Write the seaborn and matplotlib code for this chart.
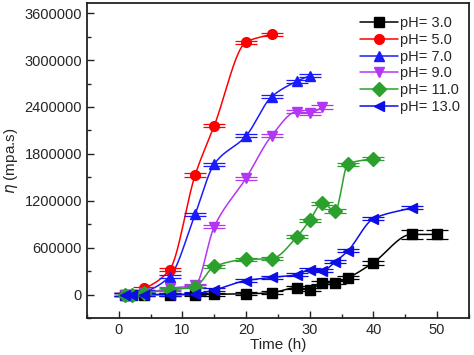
import matplotlib
matplotlib.use("Agg")
import matplotlib.pyplot as plt
from matplotlib.lines import Line2D
from matplotlib.ticker import MultipleLocator, FuncFormatter
import numpy as np
import pandas as pd
import seaborn as sns

# data
labels = ["pH= 3.0", "pH= 5.0", "pH= 7.0", "pH= 9.0", "pH= 11.0", "pH= 13.0"]

t_ph3 = [1, 2, 4, 8, 12, 15, 20, 24, 28, 30, 32, 34, 36, 40, 46, 50]
v_ph3 = [0, 0, 0, 0, 0, 5000, 10000, 25000, 90000, 65000, 150000, 155000,
         215000, 410000, 770000, 770000]
e_ph3 = [20000] * 13 + [25000, 55000, 55000]

t_ph5 = [1, 4, 8, 12, 15, 20, 24]
v_ph5 = [0, 80000, 320000, 1530000, 2160000, 3230000, 3330000]

t_ph7 = [1, 4, 8, 12, 15, 20, 24, 28, 30]
v_ph7 = [0, 40000, 230000, 1030000, 1670000, 2030000, 2530000, 2730000, 2800000]

t_ph9 = [1, 4, 8, 12, 15, 20, 24, 28, 30, 32]
v_ph9 = [0, 20000, 80000, 120000, 870000, 1490000, 2030000, 2340000,
         2320000, 2400000]

t_ph11 = [1, 2, 4, 8, 12, 15, 20, 24, 28, 30, 32, 34, 36, 40]
v_ph11 = [0, 0, 20000, 60000, 100000, 360000, 450000, 460000, 740000,
          950000, 1170000, 1070000, 1670000, 1740000]

t_ph13 = [1, 2, 4, 8, 12, 15, 20, 24, 28, 30, 32, 34, 36, 40, 46]
v_ph13 = [0, 0, 0, 0, 10000, 60000, 180000, 220000, 255000, 320000,
          305000, 420000, 560000, 970000, 1110000]

colors = ["#000000", "#ff0000", "#1a1aff", "#b535f5", "#2ca02c", "#0d0de6"]
markers = ["s", "o", "^", "v", "D", "<"]


def smooth(x, y, n=300):
    # monotone cubic (pchip) curve through the points, for the drawn line
    x = np.asarray(x, float)
    y = np.asarray(y, float)
    h = np.diff(x)
    d = np.diff(y) / h
    m = np.zeros_like(y)
    for k in range(1, len(x) - 1):
        if d[k - 1] * d[k] > 0:
            w1 = 2 * h[k] + h[k - 1]
            w2 = h[k] + 2 * h[k - 1]
            m[k] = (w1 + w2) / (w1 / d[k - 1] + w2 / d[k])
    m[0] = d[0]
    m[-1] = d[-1]
    xs = np.linspace(x[0], x[-1], n)
    idx = np.clip(np.searchsorted(x, xs) - 1, 0, len(x) - 2)
    s = (xs - x[idx]) / h[idx]
    h00 = 2 * s**3 - 3 * s**2 + 1
    h10 = s**3 - 2 * s**2 + s
    h01 = -2 * s**3 + 3 * s**2
    h11 = s**3 - s**2
    ys = (h00 * y[idx] + h10 * h[idx] * m[idx] + h01 * y[idx + 1]
          + h11 * h[idx] * m[idx + 1])
    return xs, ys


sns.set_theme(style="ticks")
plt.rcParams["font.family"] = ["Liberation Sans", "DejaVu Sans"]
plt.rcParams["mathtext.fontset"] = "dejavusans"

series = [
    (t_ph3, v_ph3, e_ph3),
    (t_ph5, v_ph5, None),
    (t_ph7, v_ph7, None),
    (t_ph9, v_ph9, None),
    (t_ph11, v_ph11, None),
    (t_ph13, v_ph13, None),
]

fig = plt.figure(figsize=(4.74, 3.55), dpi=100)
ax = fig.add_axes([0.1835, 0.104, 0.8055, 0.8875])

handles = []
for (t, v, e), lab, c, mk in zip(series, labels, colors, markers):
    xs, ys = smooth(t, v)
    curve = pd.DataFrame({"t": xs, "v": ys})
    sns.lineplot(data=curve, x="t", y="v", color=c, lw=1.1, ax=ax,
                 legend=False, zorder=2)
    if e is None:
        e = [20000] * len(t)
    ax.errorbar(t, v, yerr=e, fmt=mk, color=c, ms=7, mec=c, mfc=c,
                ecolor=c, elinewidth=0.9, capsize=8, capthick=0.9,
                alpha=1, zorder=3)
    handles.append(Line2D([0], [0], color=c, marker=mk, ms=7, lw=1.1))

ax.set_xlim(-5, 55)
ax.set_ylim(-300000, 3730000)
ax.xaxis.set_major_locator(MultipleLocator(10))
ax.xaxis.set_minor_locator(MultipleLocator(5))
ax.yaxis.set_major_locator(MultipleLocator(600000))
ax.yaxis.set_minor_locator(MultipleLocator(300000))
ax.yaxis.set_major_formatter(FuncFormatter(lambda val, pos: f"{val:.0f}"))
ax.tick_params(which="both", direction="in", labelsize=10.5, color="#222222",
               width=1.0, top=False, right=False)
ax.tick_params(which="major", length=5)
ax.tick_params(which="minor", length=3)
for sp in ax.spines.values():
    sp.set_linewidth(1.3)
    sp.set_color("#222222")

ax.set_xlabel("Time (h)", fontsize=11, labelpad=1)
ax.set_ylabel(r"$\eta$ (mpa.s)", fontsize=11, labelpad=3)

ax.legend(handles, labels, loc="upper right", frameon=False, fontsize=10.5,
          handlelength=2.6, handletextpad=0.15, labelspacing=0.18,
          borderaxespad=0.2, bbox_to_anchor=(1.0, 0.985))

fig.savefig("out.png", dpi=100)
